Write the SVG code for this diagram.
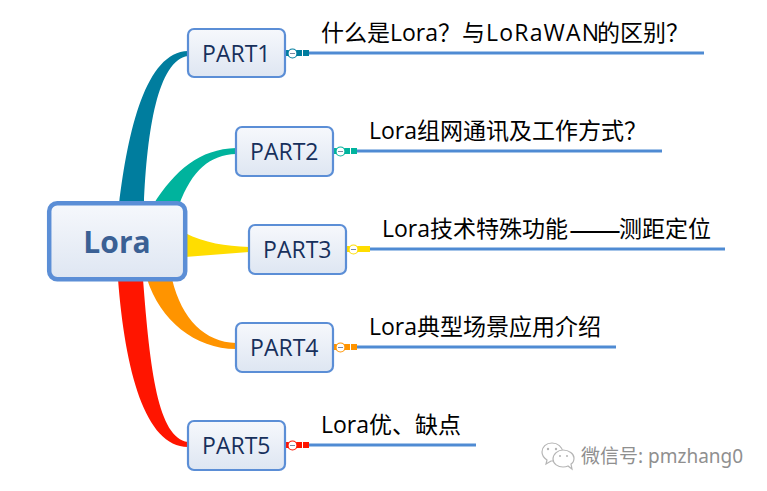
<svg xmlns="http://www.w3.org/2000/svg" width="767" height="491" viewBox="0 0 767 491">
<style>
.box{fill:url(#g);stroke:#5b8ed6;stroke-width:2.2}
.pt{font:23px "Open Sans","Noto Sans",sans-serif;fill:#17305c;text-anchor:middle}
.lb{font:23px "Open Sans","Noto Sans CJK SC",sans-serif;fill:#000}
.ln{stroke:#4f8bd3;stroke-width:3;fill:none}
.wm{font:19px "Noto Sans","Noto Sans CJK SC",sans-serif;fill:#8f8f8f}
.ic{fill:#fff;stroke:#b5b5b5;stroke-width:1.2}
.eye{fill:#b5b5b5}
</style>
<defs>
<linearGradient id="g" x1="0" y1="0" x2="0" y2="1"><stop offset="0" stop-color="#f6f8fc"/><stop offset="1" stop-color="#dee6f2"/></linearGradient>
</defs>
<rect width="767" height="491" fill="#fff"/>
<g id="connectors">
<path fill="#007d9e" d="M119,205C128,130 146,52 188,51L188,56C158,60 147,130 144,205Z"/>
<path fill="#00b39d" d="M153,205C175,170 200,149 236,148L236,154C210,155 192,170 179,205Z"/>
<path fill="#ffdd00" d="M185,233C205,243 225,246 249,247L249,252L185,257Z"/>
<path fill="#ff9400" d="M147,279C160,320 195,349 236,349L236,343C205,342 182,320 172,279Z"/>
<path fill="#ff1500" d="M118,279C125,370 145,447 188,447L188,442C158,438 150,370 143,279Z"/>
<path class="ln" d="M308,53H704M356,151H662M369,249H725M356,347H616M308,445H476"/>
<g stroke-width="6" fill="none">
<path stroke="#007d9e" d="M286,53H302M303,53H309"/>
<path stroke="#00b39d" d="M334,151H350M351,151H357"/>
<path stroke="#ffdd00" d="M347,249H370"/>
<path stroke="#ff9400" d="M334,347H350M351,347H357"/>
<path stroke="#ff1500" d="M286,445H302M303,445H309"/>
</g>
<g fill="#fff" stroke-width="1.2">
<circle cx="292.500" cy="53.500" r="4.500" stroke="#007d9e"/>
<circle cx="340.500" cy="151.500" r="4.500" stroke="#00b39d"/>
<circle cx="353.500" cy="249.500" r="4.500" stroke="#ffdd00"/>
<circle cx="340.500" cy="347.500" r="4.500" stroke="#ff9400"/>
<circle cx="292.500" cy="445.500" r="4.500" stroke="#ff1500"/>
</g>
<path stroke="#7a8aa5" stroke-width="1" d="M290,53.500H295M338,151.500H343M351,249.500H356M338,347.500H343M290,445.500H295"/>
</g>
<g id="root">
<rect x="49.200" y="203.200" width="136" height="76" rx="8" fill="url(#g)" stroke="#5b8ed6" stroke-width="4.500"/>
<text x="117" y="253" text-anchor="middle" style="font:bold 30px 'Open Sans','Noto Sans',sans-serif;fill:#3a6094">Lora</text>
</g>
<g id="part1"><rect class="box" x="188" y="29" width="97" height="48" rx="6"/><text class="pt" x="236.300" y="62">PART1</text></g>
<g id="part2"><rect class="box" x="236" y="127" width="97" height="49" rx="6"/><text class="pt" x="284.300" y="160">PART2</text></g>
<g id="part3"><rect class="box" x="249" y="225" width="97" height="49" rx="6"/><text class="pt" x="297.300" y="258">PART3</text></g>
<g id="part4"><rect class="box" x="236" y="323" width="97" height="49" rx="6"/><text class="pt" x="284.300" y="356">PART4</text></g>
<g id="part5"><rect class="box" x="188" y="421" width="97" height="49" rx="6"/><text class="pt" x="236.300" y="454">PART5</text></g>
<g id="labels">
<text class="lb" x="321" y="41">什么是<tspan x="390">Lora？</tspan><tspan x="462">与</tspan><tspan x="486" letter-spacing="1.200">LoRaWAN</tspan><tspan x="597">的区别？</tspan></text>
<text class="lb" x="369" y="139">Lora组网通讯及工作方式？</text>
<text class="lb" x="382" y="237">Lora技术特殊功能<tspan x="569" y="241" style="font-family:'Noto Sans CJK SC',sans-serif;font-size:31px">——</tspan><tspan x="619" y="237">测距定位</tspan></text>
<text class="lb" x="369" y="335">Lora典型场景应用介绍</text>
<text class="lb" x="321" y="433">Lora优、缺点</text>
</g>
<g id="watermark">
<path class="ic" d="M552,443C546,443 542,447 542,452C542,456 544,458 547,460L546,464L551,461C552,461 554,461 556,461L563,452C562,447 558,443 552,443Z"/>
<path class="ic" d="M563,450C558,450 553,454 553,459C553,464 558,467 563,467C565,467 566,467 568,466L572,469L571,464C573,463 574,461 574,458C574,454 569,450 563,450Z"/>
<circle class="eye" cx="548" cy="449" r="1.200"/><circle class="eye" cx="556" cy="449" r="1.200"/>
<circle class="eye" cx="560" cy="456" r="1"/><circle class="eye" cx="567" cy="456" r="1"/>
<text class="wm" x="581" y="463">微信号: pmzhang0</text>
</g>
</svg>
